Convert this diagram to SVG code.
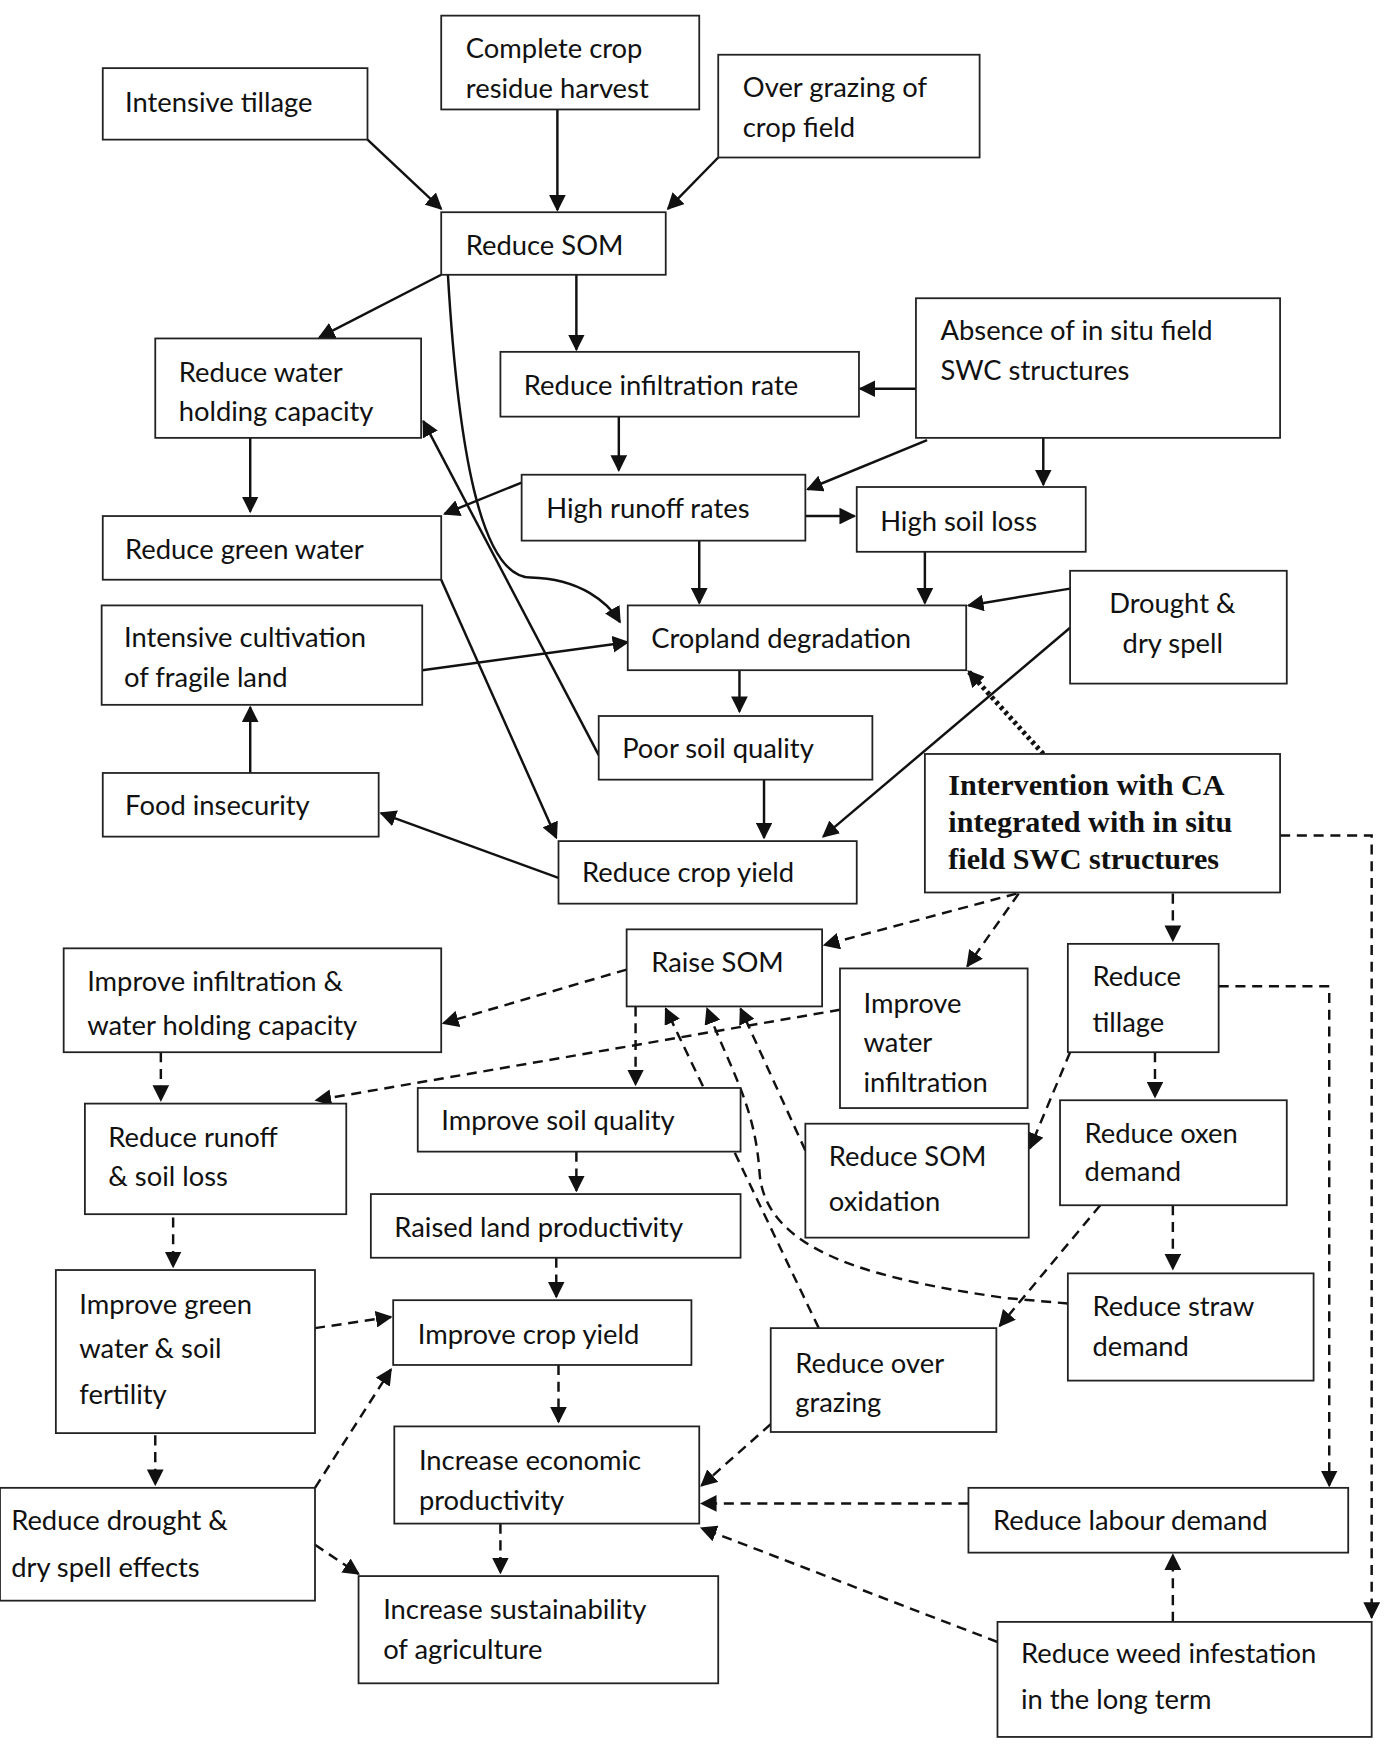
<svg xmlns="http://www.w3.org/2000/svg" width="1385" height="1745" viewBox="0 0 1385 1745">
<style>
rect{fill:#fff;stroke:#222;stroke-width:1.6}
text{font-family:Lato,"Open Sans","Liberation Sans",sans-serif;font-size:24.5px;fill:#111}
.b{font-family:"Liberation Serif","Times New Roman",serif;font-weight:bold;font-size:27px}
.s{stroke:#111;stroke-width:2.2;fill:none;marker-end:url(#a)}
.d{stroke:#111;stroke-width:2.2;fill:none;stroke-dasharray:9,6;marker-end:url(#a)}
.t{stroke:#111;stroke-width:4.5;fill:none;stroke-dasharray:3,3;marker-end:url(#a)}
</style>
<defs><marker id="a" viewBox="0 0 10 10" refX="9" refY="5" markerWidth="15" markerHeight="15" markerUnits="userSpaceOnUse" orient="auto"><path d="M0,0L10,5L0,10z" fill="#111"/></marker></defs>
<rect x="0" y="0" width="1385" height="1745" style="stroke:none"/>
<g transform="scale(1.117)">
<g id="connectors">
<path class="s" d="M329,125L395,187"/>
<path class="s" d="M499,98L499,188"/>
<path class="s" d="M643,141L598,187"/>
<path class="s" d="M395,246L286,302"/>
<path class="s" d="M516,246L516,313"/>
<path class="s" d="M401,246C410,400 430,517 475,517C520,518 545,540 555,557"/>
<path class="s" d="M820,348L770,348"/>
<path class="s" d="M830,394L723,438"/>
<path class="s" d="M934,392L934,434"/>
<path class="s" d="M554,373L554,421"/>
<path class="s" d="M224,392L224,458"/>
<path class="s" d="M467,432L398,460"/>
<path class="s" d="M721,462L765,462"/>
<path class="s" d="M626,484L626,540"/>
<path class="s" d="M828,494L828,540"/>
<path class="s" d="M958,527L867,542"/>
<path class="s" d="M958,562L737,749"/>
<path class="s" d="M378,600L562,575"/>
<path class="s" d="M224,692L224,633"/>
<path class="s" d="M662,600L662,637"/>
<path class="s" d="M536,676L379,377"/>
<path class="s" d="M684,698L684,750"/>
<path class="s" d="M395,519L498,750"/>
<path class="s" d="M500,786L341,728"/>
<path class="t" d="M934,675L867,601"/>
<path class="d" d="M910,800L738,846"/>
<path class="d" d="M912,800L866,865"/>
<path class="d" d="M1050,800L1050,842"/>
<path class="d" d="M1146,748L1228,748L1228,1448"/>
<path class="d" d="M561,868L397,916"/>
<path class="d" d="M569,901L569,971"/>
<path class="d" d="M752,904L283,985"/>
<path class="d" d="M144,942L144,985"/>
<path class="d" d="M155,1090L155,1134"/>
<path class="d" d="M139,1285L139,1329"/>
<path class="d" d="M282,1189L350,1179"/>
<path class="d" d="M282,1332L350,1226"/>
<path class="d" d="M282,1383L321,1409"/>
<path class="d" d="M516,1031L516,1066"/>
<path class="d" d="M498,1126L498,1161"/>
<path class="d" d="M500,1222L500,1273"/>
<path class="d" d="M448,1364L448,1408"/>
<path class="d" d="M1091,883L1190,883L1190,1330"/>
<path class="d" d="M958,942L922,1028"/>
<path class="d" d="M1034,942L1034,982"/>
<path class="d" d="M1050,1079L1050,1136"/>
<path class="d" d="M985,1079L895,1187"/>
<path class="d" d="M956,1167L900,1162C780,1145 685,1120 680,1050C676,990 655,960 633,903"/>
<path class="d" d="M721,1030L663,903"/>
<path class="d" d="M733,1189L596,903"/>
<path class="d" d="M690,1275L628,1330"/>
<path class="d" d="M867,1346L628,1346"/>
<path class="d" d="M893,1470L628,1368"/>
<path class="d" d="M1050,1452L1050,1392"/>
</g>
<g id="n1"><rect x="92" y="61" width="237" height="64"/><text x="112" y="100">Intensive tillage</text></g>
<g id="n2"><rect x="395" y="14" width="231" height="84"/><text x="417" y="52">Complete crop</text><text x="417" y="88">residue harvest</text></g>
<g id="n3"><rect x="643" y="49" width="234" height="92"/><text x="665" y="87">Over grazing of</text><text x="665" y="123">crop field</text></g>
<g id="n4"><rect x="395" y="190" width="201" height="56"/><text x="417" y="228">Reduce SOM</text></g>
<g id="n5"><rect x="139" y="303" width="238" height="89"/><text x="160" y="342">Reduce water</text><text x="160" y="377">holding capacity</text></g>
<g id="n6"><rect x="448" y="315" width="321" height="58"/><text x="469" y="354">Reduce infiltration rate</text></g>
<g id="n7"><rect x="820" y="267" width="326" height="125"/><text x="842" y="304">Absence of in situ field</text><text x="842" y="340">SWC structures</text></g>
<g id="n8"><rect x="467" y="425" width="254" height="59"/><text x="489" y="464">High runoff rates</text></g>
<g id="n9"><rect x="767" y="436" width="205" height="58"/><text x="788" y="475">High soil loss</text></g>
<g id="n10"><rect x="92" y="462" width="303" height="57"/><text x="112" y="500">Reduce green water</text></g>
<g id="n11"><rect x="91" y="542" width="287" height="89"/><text x="111" y="579">Intensive cultivation</text><text x="111" y="615">of fragile land</text></g>
<g id="n12"><rect x="562" y="542" width="303" height="58"/><text x="583" y="580">Cropland degradation</text></g>
<g id="n13"><rect x="958" y="511" width="194" height="101"/><text x="993" y="549">Drought &amp;</text><text x="1005" y="585">dry spell</text></g>
<g id="n14"><rect x="536" y="641" width="245" height="57"/><text x="557" y="679">Poor soil quality</text></g>
<g id="n15"><rect x="92" y="692" width="247" height="57"/><text x="112" y="730">Food insecurity</text></g>
<g id="n16"><rect x="500" y="753" width="267" height="56"/><text x="521" y="790">Reduce crop yield</text></g>
<g id="n17"><rect x="828" y="675" width="318" height="124"/><text class="b" x="849" y="712">Intervention with CA</text><text class="b" x="849" y="745">integrated with in situ</text><text class="b" x="849" y="778">field SWC structures</text></g>
<g id="n18"><rect x="561" y="832" width="175" height="69"/><text x="583" y="870">Raise SOM</text></g>
<g id="n19"><rect x="57" y="849" width="338" height="93"/><text x="78" y="887">Improve infiltration &amp;</text><text x="78" y="927">water holding capacity</text></g>
<g id="n20"><rect x="752" y="867" width="168" height="125"/><text x="773" y="907">Improve</text><text x="773" y="942">water</text><text x="773" y="978">infiltration</text></g>
<g id="n21"><rect x="956" y="845" width="135" height="97"/><text x="978" y="883">Reduce</text><text x="978" y="924">tillage</text></g>
<g id="n22"><rect x="76" y="988" width="234" height="99"/><text x="97" y="1027">Reduce runoff</text><text x="97" y="1062">&amp; soil loss</text></g>
<g id="n23"><rect x="374" y="974" width="289" height="57"/><text x="395" y="1012">Improve soil quality</text></g>
<g id="n24"><rect x="721" y="1006" width="200" height="102"/><text x="742" y="1044">Reduce SOM</text><text x="742" y="1084">oxidation</text></g>
<g id="n25"><rect x="949" y="985" width="203" height="94"/><text x="971" y="1023">Reduce oxen</text><text x="971" y="1057">demand</text></g>
<g id="n26"><rect x="332" y="1069" width="331" height="57"/><text x="353" y="1107">Raised land productivity</text></g>
<g id="n27"><rect x="50" y="1137" width="232" height="146"/><text x="71" y="1176">Improve green</text><text x="71" y="1216">water &amp; soil</text><text x="71" y="1257">fertility</text></g>
<g id="n28"><rect x="352" y="1164" width="267" height="58"/><text x="374" y="1203">Improve crop yield</text></g>
<g id="n29"><rect x="956" y="1140" width="220" height="96"/><text x="978" y="1178">Reduce straw</text><text x="978" y="1214">demand</text></g>
<g id="n30"><rect x="690" y="1189" width="202" height="93"/><text x="712" y="1229">Reduce over</text><text x="712" y="1264">grazing</text></g>
<g id="n31"><rect x="353" y="1277" width="273" height="87"/><text x="375" y="1316">Increase economic</text><text x="375" y="1352">productivity</text></g>
<g id="n32"><rect x="0" y="1332" width="282" height="101"/><text x="10" y="1370">Reduce drought &amp;</text><text x="10" y="1412">dry spell effects</text></g>
<g id="n33"><rect x="867" y="1332" width="340" height="58"/><text x="889" y="1370">Reduce labour demand</text></g>
<g id="n34"><rect x="321" y="1411" width="322" height="96"/><text x="343" y="1449">Increase sustainability</text><text x="343" y="1485">of agriculture</text></g>
<g id="n35"><rect x="893" y="1452" width="335" height="103"/><text x="914" y="1489">Reduce weed infestation</text><text x="914" y="1530">in the long term</text></g>
</g>
</svg>
